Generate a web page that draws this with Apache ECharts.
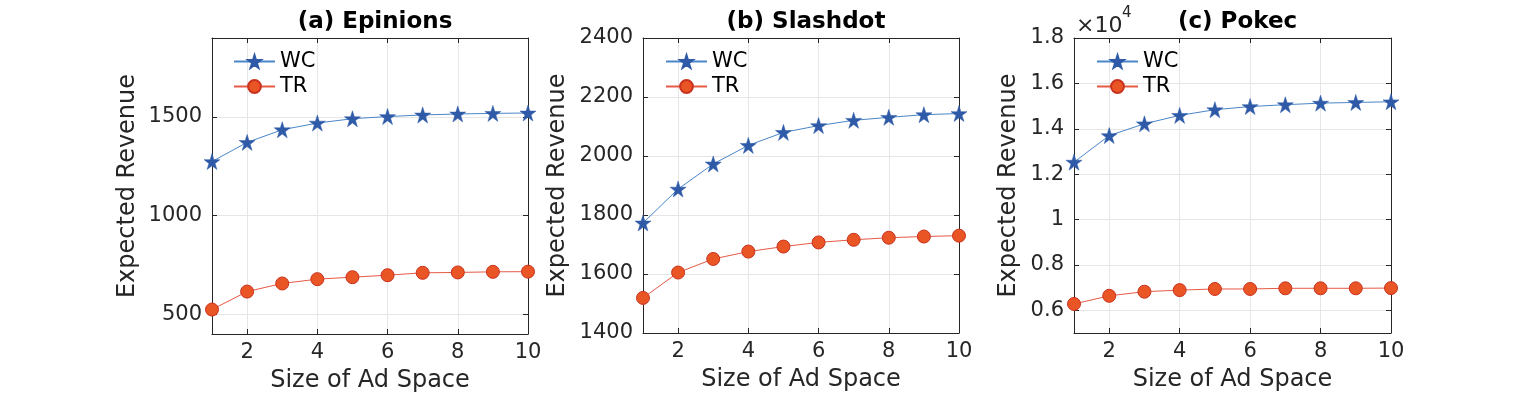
<!DOCTYPE html>
<html>
<head>
<meta charset="utf-8">
<script src="https://cdn.jsdelivr.net/npm/echarts@6/dist/echarts.min.js"></script>
<style>
    html, body { margin: 0; padding: 0; background: #fff; }
    #revenue { width: 1540px; height: 402px; }
</style>
</head>
<body>
<div id="revenue"></div>
<script>
// data
var sizes = [1, 2, 3, 4, 5, 6, 7, 8, 9, 10];
var epinionsWC = [1274, 1371, 1435, 1469, 1491, 1502, 1510, 1515, 1518, 1520];
var epinionsTR = [524, 615, 656, 678, 688, 698, 710, 712, 715, 716];
var slashdotWC = [1773, 1888, 1973, 2036, 2080, 2103, 2121, 2131, 2140, 2144];
var slashdotTR = [1519, 1605, 1651, 1676, 1693, 1707, 1716, 1723, 1727, 1730];
var pokecWC = [12530, 13700, 14220, 14590, 14840, 14980, 15060, 15130, 15160, 15190];
var pokecTR = [6280, 6640, 6820, 6890, 6940, 6940, 6970, 6970, 6970, 6980];

var xTicks = [2, 4, 6, 8, 10];
var epinionsTicks = [500, 1000, 1500];
var slashdotTicks = [1400, 1600, 1800, 2000, 2200, 2400];
var pokecTicks = [6000, 8000, 10000, 12000, 14000, 16000, 18000];

var titles = ['(a) Epinions', '(b) Slashdot', '(c) Pokec'];

var FONT = 'DejaVu Sans, sans-serif';
var STAR = 'path://M50 0 L61.23 34.55 L97.55 34.55 L68.16 55.9 L79.39 90.45 L50 69.1 L20.61 90.45 L31.84 55.9 L2.45 34.55 L38.77 34.55 Z';

var grids = [
    { left: 212, top: 38, width: 316, height: 296 },
    { left: 643, top: 38, width: 316, height: 295 },
    { left: 1074, top: 38, width: 317, height: 295 }
];
var yRanges = [
    { min: 400, max: 1900, ticks: epinionsTicks, gap: 72 },
    { min: 1400, max: 2400, ticks: slashdotTicks, gap: 73 },
    { min: 5000, max: 18000, ticks: pokecTicks, gap: 53 }
];
var legendLeft = [228, 660, 1091];

function pairs(values) {
    return values.map(function (v, i) { return [sizes[i], v]; });
}

function plainLabel(v) {
    return String(v);
}

function pokecLabel(v) {
    return String(+(v / 10000).toFixed(1));
}

function getRevenueOption() {
    var xAxis = [], yAxis = [], series = [], title = [], legend = [];
    var wcSets = [epinionsWC, slashdotWC, pokecWC];
    var trSets = [epinionsTR, slashdotTR, pokecTR];

    for (var i = 0; i < 3; i++) {
        var g = grids[i];
        var r = yRanges[i];
        title.push({
            text: titles[i],
            left: g.left + g.width / 2,
            textAlign: 'center',
            top: 6,
            textStyle: { fontFamily: FONT, fontSize: 23, fontWeight: 'bold', color: '#000' }
        });
        legend.push({
            data: ['WC', 'TR'],
            orient: 'vertical',
            left: legendLeft[i],
            top: 46,
            itemWidth: 41,
            itemHeight: 16,
            itemGap: 4,
            selectedMode: false,
            textStyle: { fontFamily: FONT, fontSize: 21, color: '#000' }
        });
        // bottom / top x axes
        xAxis.push({
            type: 'value', gridIndex: i, min: 1, max: 10, position: 'bottom',
            name: 'Size of Ad Space', nameLocation: 'middle', nameGap: 35,
            nameTextStyle: { fontFamily: FONT, fontSize: 24, color: '#262626' },
            axisLine: { onZero: false, lineStyle: { color: '#262626', width: 1 } },
            axisTick: { inside: true, length: 5, customValues: xTicks, lineStyle: { color: '#262626' } },
            axisLabel: { customValues: xTicks, margin: 8, fontFamily: FONT, fontSize: 21, color: '#262626' },
            splitLine: { show: true, lineStyle: { color: '#E6E6E6', width: 1 } }
        });
        xAxis.push({
            type: 'value', gridIndex: i, min: 1, max: 10, position: 'top',
            axisLine: { onZero: false, lineStyle: { color: '#262626', width: 1 } },
            axisTick: { inside: true, length: 5, customValues: xTicks, lineStyle: { color: '#262626' } },
            axisLabel: { show: false },
            splitLine: { show: false }
        });
        yAxis.push({
            type: 'value', gridIndex: i, min: r.min, max: r.max, position: 'left',
            name: 'Expected Revenue', nameLocation: 'middle', nameGap: r.gap,
            nameTextStyle: { fontFamily: FONT, fontSize: 24, color: '#262626' },
            axisLine: { show: true, onZero: false, lineStyle: { color: '#262626', width: 1 } },
            axisTick: { show: true, inside: true, length: 5, customValues: r.ticks, lineStyle: { color: '#262626' } },
            axisLabel: {
                customValues: r.ticks, margin: 10, fontFamily: FONT, fontSize: 21, color: '#262626',
                formatter: i === 2 ? pokecLabel : plainLabel
            },
            splitLine: { show: true, lineStyle: { color: '#E6E6E6', width: 1 } }
        });
        yAxis.push({
            type: 'value', gridIndex: i, min: r.min, max: r.max, position: 'right',
            axisLine: { show: true, onZero: false, lineStyle: { color: '#262626', width: 1 } },
            axisTick: { show: true, inside: true, length: 5, customValues: r.ticks, lineStyle: { color: '#262626' } },
            axisLabel: { show: false },
            splitLine: { show: false }
        });
        series.push({
            name: 'WC', type: 'line', xAxisIndex: i * 2, yAxisIndex: i * 2,
            data: pairs(wcSets[i]),
            symbol: STAR, symbolSize: 16,
            lineStyle: { color: '#4A86C8', width: 1 },
            itemStyle: { color: '#2F5AA8', borderColor: '#2F5AA8', borderWidth: 0.5 },
            z: 3
        });
        series.push({
            name: 'TR', type: 'line', xAxisIndex: i * 2, yAxisIndex: i * 2,
            data: pairs(trSets[i]),
            symbol: 'circle', symbolSize: 13,
            lineStyle: { color: '#E65A46', width: 1 },
            itemStyle: { color: '#EA5526', borderColor: '#C8321E', borderWidth: 1 },
            z: 3
        });
    }

    return {
        backgroundColor: '#fff',
        animation: false,
        title: title,
        legend: legend,
        grid: grids,
        xAxis: xAxis,
        yAxis: yAxis,
        series: series,
        graphic: [
            { type: 'text', left: 1076, top: 15, style: { text: '×10', fontFamily: FONT, fontSize: 22, fill: '#262626' } },
            { type: 'text', left: 1122, top: 6, style: { text: '4', fontFamily: FONT, fontSize: 15, fill: '#262626' } }
        ]
    };
}

var revenue = echarts.init(document.getElementById('revenue'));
revenue.setOption(getRevenueOption());
window.addEventListener('resize', function () {
    revenue.resize();
});
</script>
</body>
</html>
